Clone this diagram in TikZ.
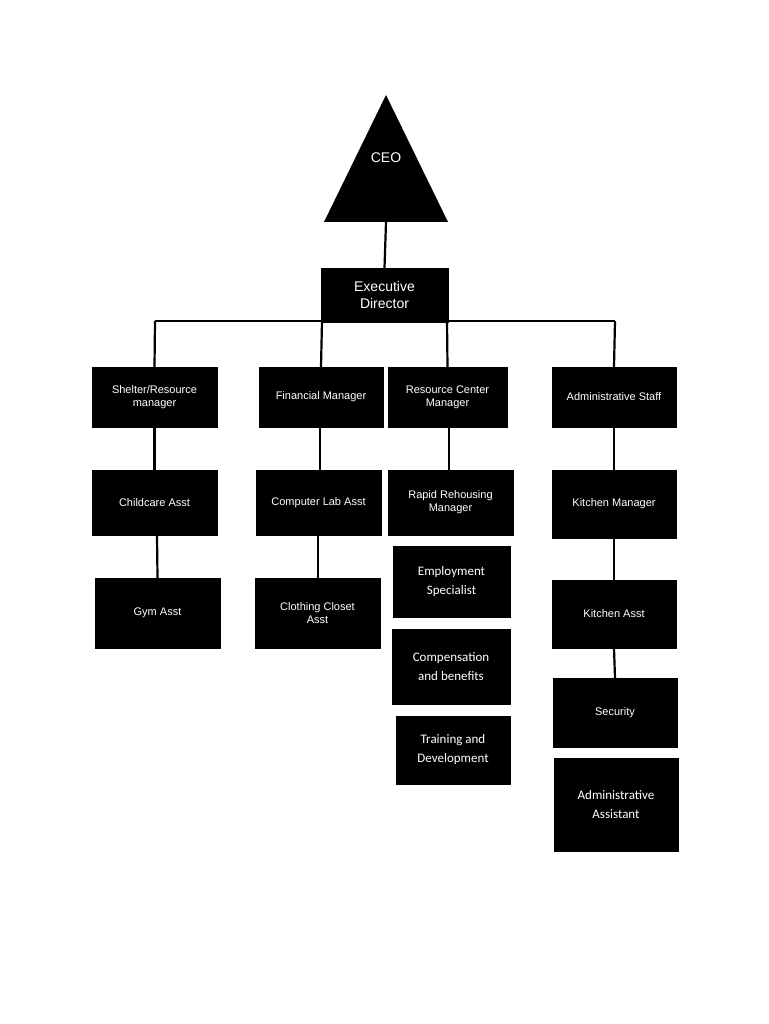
\documentclass[tikz,border=0pt]{standalone}
\usepackage{fontspec}
\setmainfont{Liberation Sans}
\newfontfamily\carl{Carlito}
\begin{document}
\begin{tikzpicture}[x=1pt,y=-1pt,
  box/.style={fill=black,draw=black,text=white,align=center,font=\fontsize{11}{13}\selectfont},
  cbox/.style={fill=black,draw=black,text=white,align=center,font=\carl\fontsize{13}{19}\selectfont},
  ln/.style={draw=black,line width=2.2pt}]
\useasboundingbox[fill=white] (0,0) rectangle (768,1024);
\newcommand\bx[7]{\path[#7] (#1,#2) rectangle (#3,#4) node[midway,#6] (#5) {};}
% triangle
\fill (386,95) coordinate (ceotop) -- (448,222) -- (324,222) -- cycle;
\node[text=white,font=\fontsize{14}{16}\selectfont] (ceo) at (386,158) {CEO};
\coordinate (ceob) at (386,222);
\node[box,minimum width=127pt,minimum height=54pt,font=\fontsize{14}{17}\selectfont] (ed) at (384.5,295) {Executive\\Director};
\draw[ln] (ceob) -- (ed.north);
% level 2
\node[box,minimum width=125pt,minimum height=60pt] (s) at (154.5,397) {Shelter/Resource\\manager};
\node[box,minimum width=124pt,minimum height=60pt] (f) at (321,397) {Financial Manager};
\node[box,minimum width=119pt,minimum height=60pt] (r) at (447.5,397) {Resource Center\\Manager};
\node[box,minimum width=124pt,minimum height=60pt] (a) at (614,397) {Administrative Staff};
\coordinate (bl) at (155,321); \coordinate (br) at (615,321);
\draw[ln] (bl) -- (br);
\draw[ln] (bl) -- (s.north);
\draw[ln] (322,321) -- (f.north);
\draw[ln] (447,321) -- (r.north);
\draw[ln] (br) -- (a.north);
% level 3
\node[box,minimum width=125pt,minimum height=65pt] (c) at (154.5,502.5) {Childcare Asst};
\node[box,minimum width=125pt,minimum height=65pt] (cl) at (318.5,502.5) {Computer Lab Asst};
\node[box,minimum width=125pt,minimum height=65pt] (rr) at (450.5,502.5) {Rapid Rehousing\\Manager};
\node[box,minimum width=124pt,minimum height=68pt] (k) at (614,504) {Kitchen Manager};
\draw[ln] (s.south) -- (c.north);
\draw[ln] (320,427) -- (320,470);
\draw[ln] (449,427) -- (449,470);
\draw[ln] (a.south) -- (k.north);
% level 4
\node[box,minimum width=125pt,minimum height=70pt] (g) at (157.5,613) {Gym Asst};
\node[box,minimum width=125pt,minimum height=70pt] (cc) at (317.5,613) {Clothing Closet\\Asst};
\node[cbox,minimum width=117pt,minimum height=71pt] (e) at (451.5,581.5) {Employment\\Specialist};
\node[box,minimum width=124pt,minimum height=68pt] (ka) at (614,614) {Kitchen Asst};
\draw[ln] (157,535) -- (g.north);
\draw[ln] (318,535) -- (318,578);
\draw[ln] (k.south) -- (ka.north);
\node[cbox,minimum width=118pt,minimum height=75pt] (cb) at (451,666.5) {Compensation\\and benefits};
\node[cbox,minimum width=114pt,minimum height=68pt] (t) at (453,750) {Training and\\Development};
\node[box,minimum width=124pt,minimum height=69pt] (sec) at (615,712.5) {Security};
\draw[ln] (ka.south) -- (sec.north);
\node[cbox,minimum width=124pt,minimum height=93pt] (aa) at (616,804.5) {Administrative\\Assistant};
\end{tikzpicture}
\end{document}
